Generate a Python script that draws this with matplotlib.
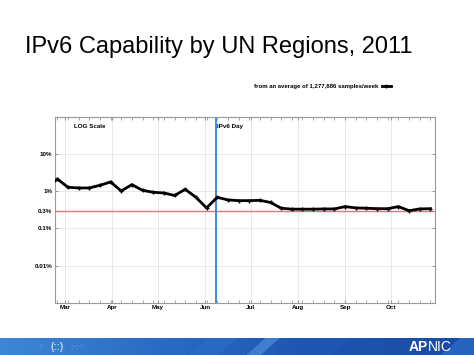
import numpy as np
import pandas as pd
import matplotlib
matplotlib.use("Agg")
from matplotlib import pyplot as plt
import matplotlib.dates as mdates
from matplotlib.patches import Polygon

plt.rcParams['font.family'] = ['Liberation Sans', 'DejaVu Sans']

# weekly samples, % of clients IPv6 capable
weeks = pd.date_range("2011-02-17", "2011-10-27", freq="7D")
capability = [1.2, 2.15, 1.28, 1.23, 1.23, 1.45, 1.78, 1.02, 1.51, 1.06,
              0.94, 0.90, 0.77, 1.13, 0.69, 0.356, 0.69, 0.585, 0.56, 0.56,
              0.57, 0.50, 0.35, 0.33, 0.33, 0.33, 0.335, 0.335, 0.387, 0.356,
              0.35, 0.34, 0.34, 0.387, 0.30, 0.335, 0.34]
target = 0.3
ipv6_day = pd.Timestamp("2011-06-08")
y_ticks = [0.01, 0.1, 0.3, 1, 10]
y_labels = ["0.01%", "0.1%", "0.3%", "1%", "10%"]

fig = plt.figure(figsize=(4.74, 3.55), dpi=100)
fig.text(25 / 474, 1 - 47 / 355, "IPv6 Capability by UN Regions, 2011",
         fontsize=17, va="center", ha="left")

ax = fig.add_axes([55 / 474, 1 - 302.7 / 355, 380 / 474, 185.7 / 355])
ax.set_yscale("log")
ax.set_ylim(0.001, 100)
ax.set_xlim(pd.Timestamp("2011-02-22 12:00"), pd.Timestamp("2011-10-30"))

ax.axhline(target, color="#d9777b", lw=1.0, zorder=2)
ax.axvline(ipv6_day, color="#2f86d0", lw=1.3, zorder=2)
line, = ax.plot(weeks, capability, color="black", lw=2.0, marker="+",
                ms=3, mew=1.0, zorder=3,
                label="from an average of 1,277,886 samples/week")

ax.set_yticks(y_ticks)
ax.set_yticklabels(y_labels)
ax.yaxis.set_minor_locator(matplotlib.ticker.NullLocator())
ax.xaxis.set_major_locator(mdates.MonthLocator())
ax.xaxis.set_major_formatter(mdates.DateFormatter("%b"))
ax.xaxis.set_minor_locator(mdates.WeekdayLocator(byweekday=mdates.TH))
ax.tick_params(axis="both", which="both", labelsize=4.5, length=2,
               color="#999999", top=True, right=True, direction="in", pad=2)
for lbl in ax.get_xticklabels() + ax.get_yticklabels():
    lbl.set_fontweight("bold")
ax.grid(True, which="major", color="#e4e4e4", lw=0.6)
for sp in ax.spines.values():
    sp.set_color("#999999")
    sp.set_linewidth(0.8)

ax.text(0.05, 0.95, "LOG Scale", transform=ax.transAxes, fontsize=4.5,
        fontweight="bold", va="center")
ax.text(ipv6_day + pd.Timedelta(days=1), 0.95, "IPv6 Day",
        transform=ax.get_xaxis_transform(), fontsize=4.5, fontweight="bold",
        va="center")

fig.legend(handles=[line], loc="center right", frameon=False,
           bbox_to_anchor=(396 / 474, 1 - 86 / 355),
           markerfirst=False, handlelength=1.5, handletextpad=0.6,
           prop={"weight": "bold", "size": 4.3})

# APNIC banner at the bottom
bax = fig.add_axes([0, 0, 1, 17 / 355])
grad = np.linspace(0, 1, 256)[None, :]
cmap = matplotlib.colors.LinearSegmentedColormap.from_list(
    "band", ["#3d86d6", "#2a6cc4", "#1d55b0", "#1a4aa6"])
bax.imshow(grad, aspect="auto", cmap=cmap, extent=[0, 1, 0, 1])
for x0, w, c in [(0.40, 0.06, "#2b6cc6"), (0.52, 0.03, "#4a8ddb"),
                 (0.58, 0.12, "#1f58b4"), (0.93, 0.10, "#2d6fc8")]:
    bax.add_patch(Polygon([[x0, 0], [x0 + w, 0], [x0 + w + 0.04, 1],
                           [x0 + 0.04, 1]], color=c, alpha=0.7, lw=0))
bax.text(0.902, 0.45, "AP", color="white", fontsize=10, fontweight="bold",
         ha="right", va="center")
bax.text(0.902, 0.45, "NIC", color="white", fontsize=10,
         ha="left", va="center")
bax.text(0.085, 0.45, "·:·", color="#a9c6ec", fontsize=5,
         ha="center", va="center", alpha=0.8)
bax.text(0.12, 0.45, "(::)", color="#d8e6f7", fontsize=7, fontweight="bold",
         ha="center", va="center", alpha=0.85)
bax.text(0.145, 0.45, "·:·:·:·", color="#a9c6ec", fontsize=5,
         ha="left", va="center", alpha=0.8)
bax.set_xlim(0, 1)
bax.set_ylim(0, 1)
bax.axis("off")

fig.savefig("out.png", dpi=100)
